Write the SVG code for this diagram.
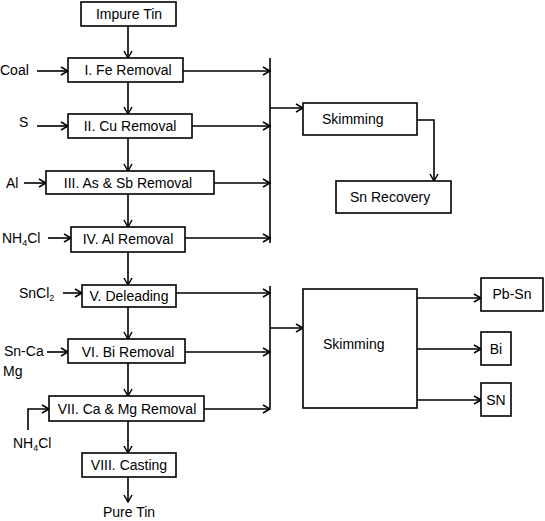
<svg xmlns="http://www.w3.org/2000/svg" width="545" height="521" viewBox="0 0 545 521">
<style>
.box{fill:#fff;stroke:#000;stroke-width:1.6}
.ln{fill:none;stroke:#000;stroke-width:1.6}
.ar{fill:none;stroke:#000;stroke-width:1.6;marker-end:url(#ah)}
text{font-family:"Liberation Sans",Arial,sans-serif;font-size:14px;fill:#000}
.c{text-anchor:middle}
</style>
<defs>
<marker id="ah" markerWidth="10" markerHeight="10" refX="8" refY="5" orient="auto" markerUnits="userSpaceOnUse">
<path d="M1,1 L8,5 L1,9" fill="none" stroke="#000" stroke-width="1.5"/>
</marker>
</defs>
<rect width="545" height="521" fill="#fff"/>
<g id="connectors">
<path class="ar" d="M128,26 V58"/>
<path class="ar" d="M128,82 V114"/>
<path class="ar" d="M128,138 V171"/>
<path class="ar" d="M128,194 V227"/>
<path class="ar" d="M128,252 V285"/>
<path class="ar" d="M128,307 V339"/>
<path class="ar" d="M128,363 V396"/>
<path class="ar" d="M128,421 V453"/>
<path class="ar" d="M128,477 V502"/>
<path class="ar" d="M37,71 H68"/>
<path class="ar" d="M37,126 H68"/>
<path class="ar" d="M24,183 H46"/>
<path class="ar" d="M48,238 H71"/>
<path class="ar" d="M63,293 H82"/>
<path class="ar" d="M47,352 H68"/>
<path class="ar" d="M28,430 V409 H49"/>
<path class="ar" d="M183,71 H270"/>
<path class="ar" d="M192,126 H270"/>
<path class="ar" d="M214,183 H270"/>
<path class="ar" d="M185,238 H270"/>
<path class="ln" d="M270,58 V243"/>
<path class="ar" d="M270,108 H303"/>
<path class="ar" d="M417,120 H434 V181"/>
<path class="ar" d="M176,293 H270"/>
<path class="ar" d="M185,352 H270"/>
<path class="ar" d="M204,409 H270"/>
<path class="ln" d="M270,286 V408"/>
<path class="ar" d="M270,328 H303"/>
<path class="ar" d="M417,298 H481"/>
<path class="ar" d="M417,349 H481"/>
<path class="ar" d="M417,400 H481"/>
</g>
<g id="impure"><rect class="box" x="81" y="2" width="95" height="24"/><text class="c" x="129" y="19">Impure Tin</text></g>
<g id="s1"><rect class="box" x="68" y="58" width="115" height="24"/><text class="c" x="128" y="75">I. Fe Removal</text></g>
<g id="s2"><rect class="box" x="68" y="114" width="124" height="24"/><text class="c" x="130" y="131">II. Cu Removal</text></g>
<g id="s3"><rect class="box" x="46" y="171" width="168" height="23"/><text class="c" x="128" y="188">III. As &amp; Sb Removal</text></g>
<g id="s4"><rect class="box" x="71" y="227" width="114" height="25"/><text class="c" x="128" y="244">IV. Al Removal</text></g>
<g id="s5"><rect class="box" x="82" y="285" width="94" height="22"/><text class="c" x="129" y="301">V. Deleading</text></g>
<g id="s6"><rect class="box" x="68" y="339" width="117" height="24"/><text class="c" x="128" y="357">VI. Bi Removal</text></g>
<g id="s7"><rect class="box" x="49" y="396" width="155" height="25"/><text class="c" x="127" y="414">VII. Ca &amp; Mg Removal</text></g>
<g id="s8"><rect class="box" x="82" y="453" width="94" height="24"/><text class="c" x="129" y="470">VIII. Casting</text></g>
<g id="pure"><text class="c" x="129" y="517">Pure Tin</text></g>
<g id="coal"><text x="0" y="75">Coal</text></g>
<g id="sulfur"><text x="19" y="127">S</text></g>
<g id="al"><text x="6" y="188">Al</text></g>
<g id="nh4cl1"><text x="2" y="243">NH<tspan font-size="9" dy="3">4</tspan><tspan dy="-3">Cl</tspan></text></g>
<g id="sncl2"><text x="19" y="298">SnCl<tspan font-size="9" dy="3">2</tspan></text></g>
<g id="snca"><text x="4" y="356">Sn-Ca</text><text x="3" y="376">Mg</text></g>
<g id="nh4cl2"><text x="13" y="448">NH<tspan font-size="9" dy="3">4</tspan><tspan dy="-3">Cl</tspan></text></g>
<g id="skim1"><rect class="box" x="303" y="103" width="114" height="32"/><text x="322" y="124">Skimming</text></g>
<g id="snrec"><rect class="box" x="336" y="181" width="115" height="32"/><text x="350" y="202">Sn Recovery</text></g>
<g id="skim2"><rect class="box" x="303" y="289" width="114" height="119"/><text x="323" y="349">Skimming</text></g>
<g id="pbsn"><rect class="box" x="481" y="278" width="62" height="33"/><text class="c" x="512" y="299">Pb-Sn</text></g>
<g id="bi"><rect class="box" x="481" y="332" width="30" height="33"/><text class="c" x="496" y="354">Bi</text></g>
<g id="sn"><rect class="box" x="481" y="383" width="30" height="33"/><text class="c" x="496" y="405">SN</text></g>
</svg>
